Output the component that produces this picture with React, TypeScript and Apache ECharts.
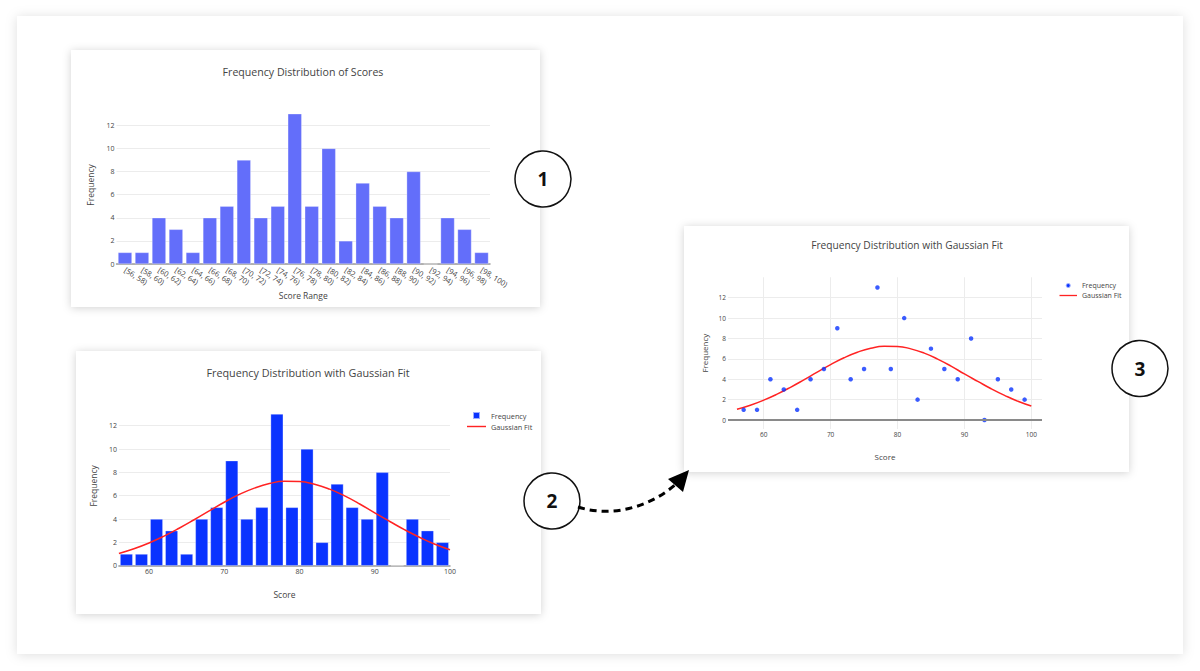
import React, { useEffect, useRef } from "react";
import * as echarts from "echarts";

// ---- data ----
const binLabels = [
  "[56, 58)", "[58, 60)", "[60, 62)", "[62, 64)", "[64, 66)", "[66, 68)",
  "[68, 70)", "[70, 72)", "[72, 74)", "[74, 76)", "[76, 78)", "[78, 80)",
  "[80, 82)", "[82, 84)", "[84, 86)", "[86, 88)", "[88, 90)", "[90, 92)",
  "[92, 94)", "[94, 96)", "[96, 98)", "[98, 100)",
];
const histCounts = [1, 1, 4, 3, 1, 4, 5, 9, 4, 5, 13, 5, 10, 2, 7, 5, 4, 8, 0, 4, 3, 1];
const binCenters = [57, 59, 61, 63, 65, 67, 69, 71, 73, 75, 77, 79, 81, 83, 85, 87, 89, 91, 93, 95, 97, 99];
const fitCounts = [1, 1, 4, 3, 1, 4, 5, 9, 4, 5, 13, 5, 10, 2, 7, 5, 4, 8, 0, 4, 3, 2];
const fitX = [56, 58, 60, 62, 64, 66, 68, 70, 72, 74, 76, 78, 80, 82, 84, 86, 88, 90, 92, 94, 96, 98, 100];
const fitY = [1.05, 1.45, 1.95, 2.54, 3.21, 3.94, 4.7, 5.44, 6.11, 6.65, 7.04, 7.23, 7.21, 6.98, 6.56, 5.98, 5.29, 4.52, 3.79, 3.07, 2.42, 1.84, 1.37];

const FONT = "'Open Sans', 'Noto Sans', sans-serif";
const TXT = "#444";
const GRIDC = "#ececec";
const AXISC = "#9a9a9a";
const BLUE = "#0a33ff";
const PBLUE = "#636efa";
const RED = "#ff2323";

const SQUARE_ICON = "path://M0,0h10v10h-10z";
const LINE_ICON = "path://M0,0h40v3h-40z";

const titleStyle = (size: number) => ({ fontSize: size, fontWeight: "normal" as const, color: TXT, fontFamily: FONT });
const nameStyle = { fontSize: 8.5, color: TXT, fontFamily: FONT };
const labelStyle = { fontSize: 7, color: TXT, fontFamily: FONT };

function buildOption(): any {
  const barPts = binCenters.map((x, i) => [x, fitCounts[i]]);
  const linePts = fitX.map((x, i) => [x, fitY[i]]);

  const card = (x: number, y: number, w: number, h: number, z: number, blur: number, alpha: number) => ({
    type: "rect", z, silent: true,
    shape: { x, y, width: w, height: h },
    style: { fill: "#ffffff", shadowBlur: blur, shadowColor: `rgba(0,0,0,${alpha})`, shadowOffsetX: 0, shadowOffsetY: 1 },
  });
  const badge = (cx: number, cy: number, t: string) => [
    { type: "circle", z: 50, shape: { cx, cy, r: 28 }, style: { fill: "#ffffff", stroke: "#111", lineWidth: 1.5 } },
    { type: "text", z: 51, x: cx, y: cy, style: { text: t, fill: "#111", fontSize: 19, fontWeight: "bold", fontFamily: FONT, align: "center", verticalAlign: "middle" } },
  ];

  return {
    animation: false,
    backgroundColor: "#ffffff",
    graphic: [
      card(17, 16, 1166, 638, -3, 12, 0.13),
      card(71, 50, 469, 257, -2, 9, 0.18),
      card(76, 351, 465, 263, -2, 9, 0.18),
      card(684, 226, 445, 246, -2, 9, 0.18),
      ...badge(543, 179, "1"),
      ...badge(552, 501, "2"),
      ...badge(1140, 368.5, "3"),
      {
        type: "bezierCurve", z: 50,
        shape: { x1: 578, y1: 507, cpx1: 612, cpy1: 518, cpx2: 650, cpy2: 507, x2: 676, y2: 484 },
        style: { stroke: "#000", lineWidth: 3, lineDash: [7, 5], fill: null },
      },
      {
        type: "polygon", z: 50,
        shape: { points: [[689, 470], [668, 479], [683, 492]] },
        style: { fill: "#000" },
      },
    ],
    title: [
      { text: "Frequency Distribution of Scores", left: 303, top: 66.5, textAlign: "center", padding: 0, textStyle: titleStyle(10.6) },
      { text: "Frequency Distribution with Gaussian Fit", left: 308, top: 366.5, textAlign: "center", padding: 0, textStyle: titleStyle(10.8) },
      { text: "Frequency Distribution with Gaussian Fit", left: 907, top: 239.5, textAlign: "center", padding: 0, textStyle: titleStyle(10.2) },
    ],
    legend: [
      {
        data: [{ name: "Frequency", icon: SQUARE_ICON }, { name: "Gaussian Fit", icon: LINE_ICON }],
        orient: "vertical", left: 467, top: 411, padding: 0, itemGap: 3,
        itemWidth: 19, itemHeight: 7, selectedMode: false, symbolKeepAspect: true,
        textStyle: { ...labelStyle, fontSize: 7.3 },
      },
      {
        data: [{ name: "Frequency", icon: "circle" }, { name: "Gaussian Fit", icon: LINE_ICON }],
        orient: "vertical", left: 1059.5, top: 282, padding: 0, itemGap: 3,
        itemWidth: 17.5, itemHeight: 5, selectedMode: false, symbolKeepAspect: true,
        textStyle: labelStyle,
      },
    ],
    grid: [
      { left: 116.5, right: 710, top: 105.9, bottom: 407 },
      { left: 118.9, right: 750, top: 406.1, bottom: 105.3 },
      { left: 728, right: 158, top: 277.3, bottom: 242 },
    ],
    xAxis: [
      {
        gridIndex: 0, type: "category", data: binLabels,
        axisTick: { show: false },
        axisLine: { lineStyle: { color: AXISC, width: 1.5 } },
        axisLabel: { ...labelStyle, fontSize: 7.5, interval: 0, rotate: -32, margin: 5 },
        name: "Score Range", nameLocation: "middle", nameGap: 25, nameTextStyle: nameStyle,
      },
      {
        gridIndex: 1, type: "value", min: 56, max: 100,
        axisTick: { show: false },
        axisLine: { show: true, onZero: false, lineStyle: { color: AXISC, width: 1.5 } },
        splitLine: { show: false },
        axisLabel: { ...labelStyle, margin: 2, showMinLabel: false },
        name: "Score", nameLocation: "middle", nameGap: 24, nameTextStyle: nameStyle,
      },
      {
        gridIndex: 2, type: "value", min: 54.66, max: 101.6,
        axisTick: { show: false },
        axisLine: { show: false },
        splitLine: { show: true, showMinLine: false, showMaxLine: false, lineStyle: { color: GRIDC, width: 1 } },
        axisLabel: { ...labelStyle, fontSize: 6.5, margin: 1.5, showMinLabel: false, showMaxLabel: false },
        name: "Score", nameLocation: "middle", nameGap: 23, nameTextStyle: { ...nameStyle, fontSize: 8 },
      },
    ],
    yAxis: [
      {
        gridIndex: 0, type: "value", min: 0, max: 13.68, interval: 2,
        axisLine: { show: false }, axisTick: { show: false },
        splitLine: { show: true, showMaxLine: false, lineStyle: { color: GRIDC, width: 1 } },
        axisLabel: { ...labelStyle, margin: 2, showMaxLabel: false },
        name: "Frequency", nameLocation: "middle", nameGap: 22, nameTextStyle: nameStyle,
      },
      {
        gridIndex: 1, type: "value", min: 0, max: 13.68, interval: 2,
        axisLine: { show: false }, axisTick: { show: false },
        splitLine: { show: true, showMaxLine: false, lineStyle: { color: GRIDC, width: 1 } },
        axisLabel: { ...labelStyle, margin: 2, showMaxLabel: false },
        name: "Frequency", nameLocation: "middle", nameGap: 20.5, nameTextStyle: nameStyle,
      },
      {
        gridIndex: 2, type: "value", min: -0.88, max: 14, splitNumber: 7,
        axisLine: { show: false }, axisTick: { show: false },
        splitLine: { show: true, showMinLine: false, showMaxLine: false, lineStyle: { color: GRIDC, width: 1 } },
        axisLabel: { ...labelStyle, fontSize: 6.5, margin: 2, showMinLabel: false, showMaxLabel: false },
        name: "Frequency", nameLocation: "middle", nameGap: 20, nameTextStyle: { ...nameStyle, fontSize: 8 },
      },
    ],
    series: [
      {
        name: "Score Count", type: "bar", xAxisIndex: 0, yAxisIndex: 0,
        data: histCounts, barCategoryGap: "18%",
        itemStyle: { color: PBLUE, borderColor: "rgba(255,255,255,0.6)", borderWidth: 0.5 },
      },
      {
        name: "Frequency", type: "bar", xAxisIndex: 1, yAxisIndex: 1,
        data: barPts, barWidth: 12.6,
        itemStyle: { color: BLUE, borderColor: "rgba(255,255,255,0.6)", borderWidth: 0.5 },
      },
      {
        name: "Gaussian Fit", type: "line", xAxisIndex: 1, yAxisIndex: 1, z: 4,
        data: linePts, smooth: true, symbol: "none",
        lineStyle: { color: RED, width: 1.5 }, itemStyle: { color: RED },
      },
      {
        name: "Frequency", type: "scatter", xAxisIndex: 2, yAxisIndex: 2, z: 4,
        data: barPts, symbolSize: 4.5, itemStyle: { color: BLUE },
        markLine: {
          silent: true, symbol: "none", label: { show: false },
          lineStyle: { color: "#8a8a8a", width: 2, type: "solid" },
          data: [{ yAxis: 0 }],
        },
      },
      {
        name: "Gaussian Fit", type: "line", xAxisIndex: 2, yAxisIndex: 2, z: 3,
        data: linePts, smooth: true, symbol: "none",
        lineStyle: { color: RED, width: 1.5 }, itemStyle: { color: RED },
      },
    ],
  };
}

export default function App() {
  const ref = useRef<HTMLDivElement>(null);
  useEffect(() => {
    if (!ref.current) return;
    const chart = echarts.init(ref.current, null, { renderer: "svg" });
    chart.setOption(buildOption());
    return () => chart.dispose();
  }, []);
  return (
    <div
      ref={ref}
      style={{ position: "absolute", left: 0, top: 0, width: 1200, height: 671, background: "#ffffff" }}
    />
  );
}
